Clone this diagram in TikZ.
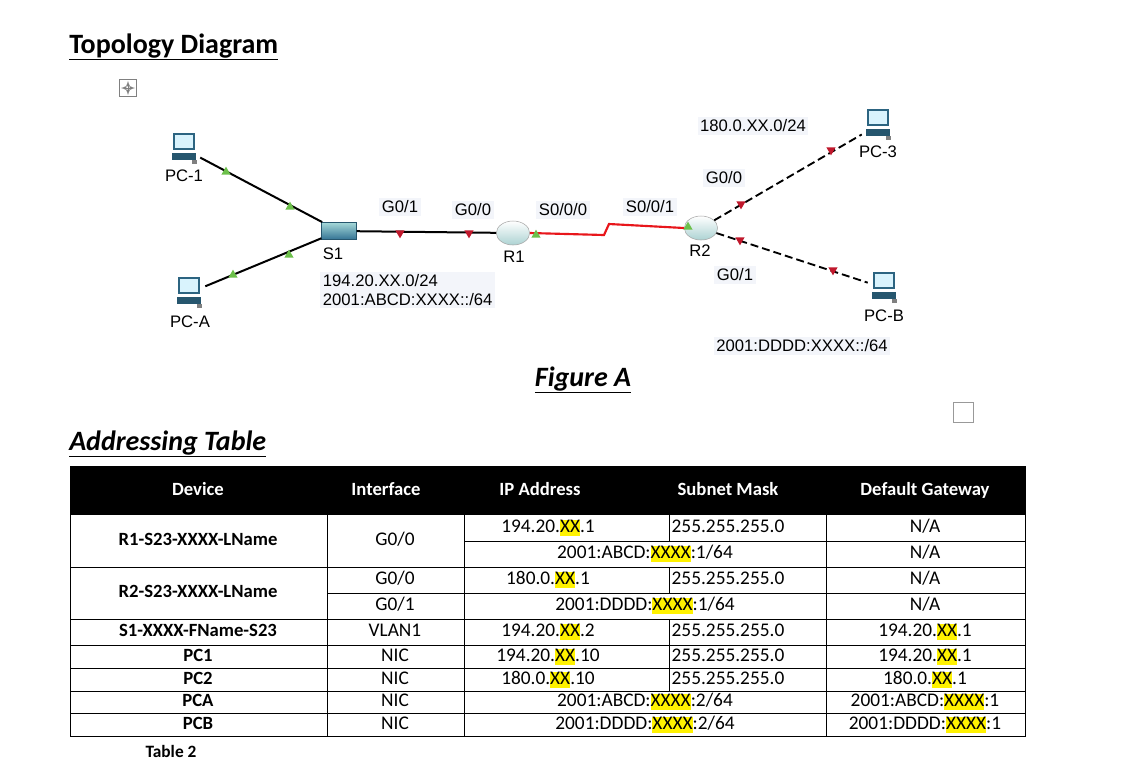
\documentclass[tikz,border=0pt]{standalone}
\usepackage{fontspec}
\setmainfont{Carlito}
\newfontfamily\ptfont{Liberation Sans}
\usetikzlibrary{shapes.geometric}
\definecolor{lblbg}{HTML}{F3F5FA}
\definecolor{pcblue}{HTML}{3F8FB8}
\definecolor{lnkred}{HTML}{E8161B}
\definecolor{trired}{HTML}{C0182C}
\definecolor{trigreen}{HTML}{6CC04A}
\newcommand\hx[1]{{\setlength{\fboxsep}{0pt}\colorbox{yellow}{\vphantom{Xg}#1}}}
\tikzset{
  pt/.style={font=\ptfont\fontsize{12.5}{14}\selectfont, inner sep=2pt},
  lbl/.style={pt, fill=lblbg},
  cell/.style={font=\fontsize{14.5}{16}\selectfont, inner sep=0pt, text height=10pt, text depth=3.5pt},
  bcell/.style={cell, font=\bfseries\fontsize{14}{16}\selectfont},
  hcell/.style={bcell, text=white},
  up/.style={regular polygon, regular polygon sides=3, fill=trigreen, inner sep=0pt, minimum size=8pt},
  dn/.style={up, fill=trired, shape border rotate=180},
  pc/.style={minimum width=24pt, minimum height=26pt, inner sep=0pt, path picture={
    \fill[pcblue!70!black] ([xshift=-8pt,yshift=-1pt]path picture bounding box.center) rectangle ++(16pt,13pt);
    \fill[cyan!15] ([xshift=-6.5pt,yshift=0.5pt]path picture bounding box.center) rectangle ++(13pt,10pt);
    \fill[pcblue!60!black] ([xshift=-9pt,yshift=-8pt]path picture bounding box.center) rectangle ++(18pt,5pt);
    \fill[gray] ([xshift=6pt,yshift=-11pt]path picture bounding box.center) rectangle ++(4pt,2.5pt);}},
  router/.style={ellipse, minimum width=25pt, minimum height=18pt, draw=gray!70, top color=white, bottom color=cyan!30!gray!50, inner sep=0pt},
  switch/.style={rectangle, minimum width=26pt, minimum height=13pt, draw=pcblue!60!black, top color=cyan!40!gray!50, bottom color=pcblue!80!black, inner sep=0pt},
  red link/.style={lnkred, line width=1.6pt},
  dash link/.style={black, line width=1.4pt, dash pattern=on 6pt off 3pt}
}
\begin{document}
\begin{tikzpicture}[x=0.75pt,y=-0.75pt]
\useasboundingbox (0,0) rectangle (1121,769);
\fill[white] (0,0) rectangle (1121,769);

% titles
\node[anchor=west, font=\bfseries\fontsize{21}{24}\selectfont, inner sep=0pt] (ttop) at (69,47) {\underline{Topology Diagram}};
\node[font=\bfseries\itshape\fontsize{21}{24}\selectfont, inner sep=0pt] (tfig) at (583,380) {\underline{Figure A}};
\node[anchor=west, font=\bfseries\itshape\fontsize{21}{24}\selectfont, inner sep=0pt] (ttab) at (69,444) {\underline{Addressing Table}};
\node[font=\bfseries\fontsize{13}{15}\selectfont, inner sep=0pt] (tcap) at (171,751) {Table 2};

% small marks
\node[draw=gray, minimum size=13pt, inner sep=0pt] (move) at (128,88) {};
\draw[gray, <->, >=latex] (121,88) -- (135,88);
\draw[gray, <->, >=latex] (128,81) -- (128,95);
\node[draw=gray!80, minimum size=15pt, inner sep=0pt] (chk) at (963,412) {};

% devices
\node[pc] (pc1) at (184,149) {};
\node[pt] at (184,176) {PC-1};
\node[pc] (pca) at (189,293) {};
\node[pt] at (190,322) {PC-A};
\node[switch] (s1) at (339,231) {};
\node[pt] at (333,254) {S1};
\node[router] (r1) at (513,233) {};
\node[pt] at (514,257) {R1};
\node[router] (r2) at (701,228) {};
\node[pt] at (700,251) {R2};
\node[pc] (pc3) at (878,125) {};
\node[pt] at (878,152) {PC-3};
\node[pc] (pcb) at (884,288) {};
\node[pt] at (884,316) {PC-B};

% links
\draw[line width=1.5pt] (pc1) -- (s1);
\draw[line width=1.5pt] (pca) -- (s1);
\draw[line width=1.5pt] (s1) -- (r1);
\draw[red link] (r1.east) -- (604,235) -- (609,224) -- (r2.west);
\draw[dash link] (r2) -- (pc3);
\draw[dash link] (r2) -- (pcb);

% port lights
\node[up] at (226,172) {};
\node[up] at (290,207) {};
\node[up] at (233,275) {};
\node[up] at (289,255) {};
\node[dn] at (400,233) {};
\node[dn] at (469,233) {};
\node[up] at (536,235) {};
\node[up] at (688,227) {};
\node[dn] at (741,204) {};
\node[dn] at (831,150) {};
\node[dn] at (740,240) {};
\node[dn] at (833,270) {};

% labels
\node[lbl] at (400,207) {G0/1};
\node[lbl] at (473,210) {G0/0};
\node[lbl] at (563,210) {S0/0/0};
\node[lbl] at (650,207) {S0/0/1};
\node[lbl] at (753,126) {180.0.XX.0/24};
\node[lbl] at (724,178) {G0/0};
\node[lbl] at (735,275) {G0/1};
\node[lbl, align=left, anchor=west] at (320,290) {194.20.XX.0/24\\2001:ABCD:XXXX::/64};
\node[lbl] at (802,346) {2001:DDDD:XXXX::/64};

% table
\fill[black] (70,466) rectangle (1025,515);
\draw (70,466) rectangle (1025,736);
\foreach \y in {567,619,645,668,691,713} \draw (70,\y) -- (1025,\y);
\draw (464,541) -- (1025,541);
\draw (327,593) -- (1025,593);
\foreach \x in {327,464,826} \draw (\x,515) -- (\x,736);
\foreach \y/\z in {515/541,567/593,619/691} \draw (669,\y) -- (669,\z);

\node[hcell] (hdev) at (198,491) {Device};
\node[hcell] (hint) at (386,491) {Interface};
\node[hcell] (hip) at (540,491) {IP Address};
\node[hcell] (hmask) at (728,491) {Subnet Mask};
\node[hcell] (hgw) at (925,491) {Default Gateway};

\node[bcell] (d1) at (198,541) {R1-S23-XXXX-LName};
\node[bcell] (d2) at (198,593) {R2-S23-XXXX-LName};
\node[bcell] (d3) at (198,632) {S1-XXXX-FName-S23};
\node[bcell] (d4) at (198,657) {PC1};
\node[bcell] (d5) at (198,680) {PC2};
\node[bcell] (d6) at (198,702) {PCA};
\node[bcell] (d7) at (198,725) {PCB};

\node[cell] (i1) at (395,541) {G0/0};
\node[cell] (i2) at (395,580) {G0/0};
\node[cell] (i3) at (395,606) {G0/1};
\node[cell] (i4) at (395,632) {VLAN1};
\node[cell] (i5) at (395,657) {NIC};
\node[cell] (i6) at (395,680) {NIC};
\node[cell] (i7) at (395,702) {NIC};
\node[cell] (i8) at (395,725) {NIC};

\node[cell] (a1) at (548,528) {194.20.\hx{XX}.1};
\node[cell] (m1) at (728,528) {255.255.255.0};
\node[cell] (g1) at (925,528) {N/A};
\node[cell] (a2) at (645,554) {2001:ABCD:\hx{XXXX}:1/64};
\node[cell] (g2) at (925,554) {N/A};
\node[cell] (a3) at (548,580) {180.0.\hx{XX}.1};
\node[cell] (m3) at (728,580) {255.255.255.0};
\node[cell] (g3) at (925,580) {N/A};
\node[cell] (a4) at (645,606) {2001:DDDD:\hx{XXXX}:1/64};
\node[cell] (g4) at (925,606) {N/A};
\node[cell] (a5) at (548,632) {194.20.\hx{XX}.2};
\node[cell] (m5) at (728,632) {255.255.255.0};
\node[cell] (g5) at (925,632) {194.20.\hx{XX}.1};
\node[cell] (a6) at (548,657) {194.20.\hx{XX}.10};
\node[cell] (m6) at (728,657) {255.255.255.0};
\node[cell] (g6) at (925,657) {194.20.\hx{XX}.1};
\node[cell] (a7) at (548,680) {180.0.\hx{XX}.10};
\node[cell] (m7) at (728,680) {255.255.255.0};
\node[cell] (g7) at (925,680) {180.0.\hx{XX}.1};
\node[cell] (a8) at (645,702) {2001:ABCD:\hx{XXXX}:2/64};
\node[cell] (g8) at (925,702) {2001:ABCD:\hx{XXXX}:1};
\node[cell] (a9) at (645,725) {2001:DDDD:\hx{XXXX}:2/64};
\node[cell] (g9) at (925,725) {2001:DDDD:\hx{XXXX}:1};
\end{tikzpicture}
\end{document}
